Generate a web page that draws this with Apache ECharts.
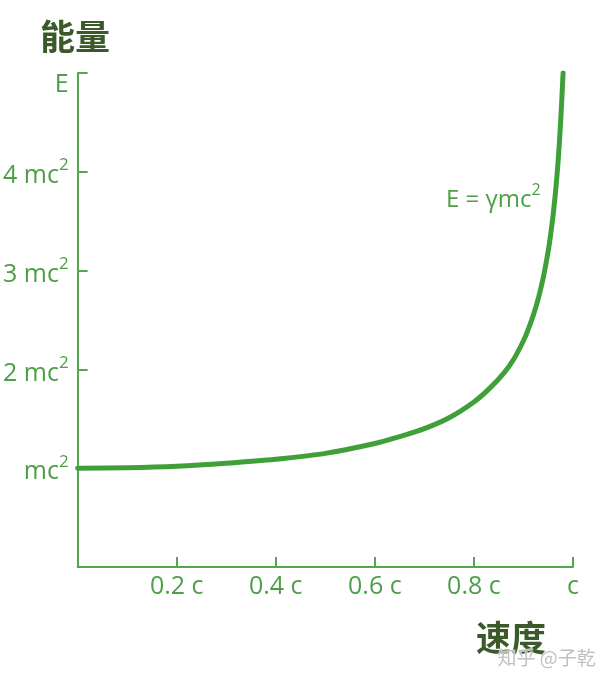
<!DOCTYPE html>
<html>
<head>
<meta charset="utf-8">
<script src="https://cdn.jsdelivr.net/npm/echarts@6/dist/echarts.min.js"></script>
<style>html,body{margin:0;padding:0;background:#fff;}#c{width:608px;height:681px;}</style>
</head>
<body>
<div id="c"></div>
<script>
// values (speed as fraction of c, energy in units of mc^2)
const speeds = [0, 0.1, 0.2, 0.3, 0.4, 0.5, 0.6, 0.65, 0.7, 0.75, 0.8, 0.83, 0.86, 0.88, 0.9, 0.91, 0.92, 0.93, 0.94, 0.95, 0.955, 0.96, 0.965, 0.97, 0.975, 0.98];
const energies = [1.0, 1.005, 1.02, 1.05, 1.09, 1.15, 1.25, 1.32, 1.40, 1.51, 1.67, 1.80, 1.96, 2.1, 2.29, 2.41, 2.55, 2.72, 2.93, 3.2, 3.37, 3.57, 3.81, 4.11, 4.5, 5.0];
const xTickLabels = ['', '0.2 c', '0.4 c', '0.6 c', '0.8 c', 'c'];
const yTickLabels = ['', 'mc', '2 mc', '3 mc', '4 mc', 'E'];
const yTickSup = ['', '2', '2', '2', '2', ''];
const yTitle = '能量';
const xTitle = '速度';
const curveLabel = 'E = γmc';
const watermark = '知乎 @子乾';

const axisColor = '#52a64c';
const textColor = '#4c9f46';
const lineColor = '#3f9f38';
const titleColor = '#3b5a29';
const fontFam = '"Open Sans", "DejaVu Sans", sans-serif';

const chart = echarts.init(document.getElementById('c'), null, {renderer: 'canvas'});
chart.setOption({
  animation: false,
  backgroundColor: '#fff',
  grid: {left: 77, right: 35, top: 73, bottom: 114},
  xAxis: {
    type: 'value', min: 0, max: 1, interval: 0.2,
    axisLine: {show: true, lineStyle: {color: axisColor, width: 2}},
    axisTick: {show: true, inside: true, length: 10, lineStyle: {color: axisColor, width: 2}},
    splitLine: {show: false},
    axisLabel: {
      color: textColor, fontSize: 25, fontFamily: fontFam, margin: 7,
      formatter: (v) => xTickLabels[Math.round(v / 0.2)]
    }
  },
  yAxis: {
    type: 'value', min: 0, max: 5, interval: 1,
    axisLine: {show: true, lineStyle: {color: axisColor, width: 2}},
    axisTick: {show: true, inside: true, length: 10, lineStyle: {color: axisColor, width: 2}},
    splitLine: {show: false},
    axisLabel: {
      color: textColor, fontSize: 25, fontFamily: fontFam, margin: 9,
      formatter: (v) => {
        const i = Math.round(v);
        if (!yTickLabels[i]) return '';
        if (i === 5) return '{e|' + yTickLabels[i] + '}';
        return '{n|' + yTickLabels[i] + '}{s|' + yTickSup[i] + '}';
      },
      rich: {
        n: {fontSize: 25, fontFamily: fontFam, color: textColor, lineHeight: 30, padding: [8, 0, 0, 0]},
        s: {fontSize: 17, fontFamily: fontFam, color: textColor, verticalAlign: 'top', lineHeight: 30, padding: [0, 0, 6, 0]},
        e: {fontSize: 25, fontFamily: fontFam, color: textColor, padding: [24, 0, 0, 0]}
      }
    }
  },
  series: [{
    type: 'line',
    data: speeds.map((s, i) => [s, energies[i]]),
    smooth: 0.3,
    showSymbol: false,
    symbol: 'none',
    lineStyle: {color: lineColor, width: 5, cap: 'round', join: 'round'},
    z: 3
  }],
  graphic: [
    {type: 'text', left: 40, top: 19, style: {text: yTitle, fill: titleColor, font: 'bold 35px "Noto Sans CJK SC"'}},
    {type: 'text', left: 476, top: 620, style: {text: xTitle, fill: titleColor, font: 'bold 35px "Noto Sans CJK SC"'}},
    {type: 'text', left: 446, top: 182, style: {
      text: '{n|' + curveLabel + '}{s|2}',
      rich: {
        n: {fontSize: 24, fontFamily: fontFam, fill: textColor, lineHeight: 30, padding: [6,0,0,0]},
        s: {fontSize: 16, fontFamily: fontFam, fill: textColor, verticalAlign: 'top', lineHeight: 30, padding: [0,0,6,0]}
      }
    }},
    {type: 'text', left: 497, top: 648, z: 10, style: {text: watermark, fill: 'rgba(185,185,185,0.9)', stroke: 'rgba(255,255,255,0.8)', lineWidth: 1, font: '19px "Noto Sans CJK SC"'}}
  ]
});
</script>
</body>
</html>
